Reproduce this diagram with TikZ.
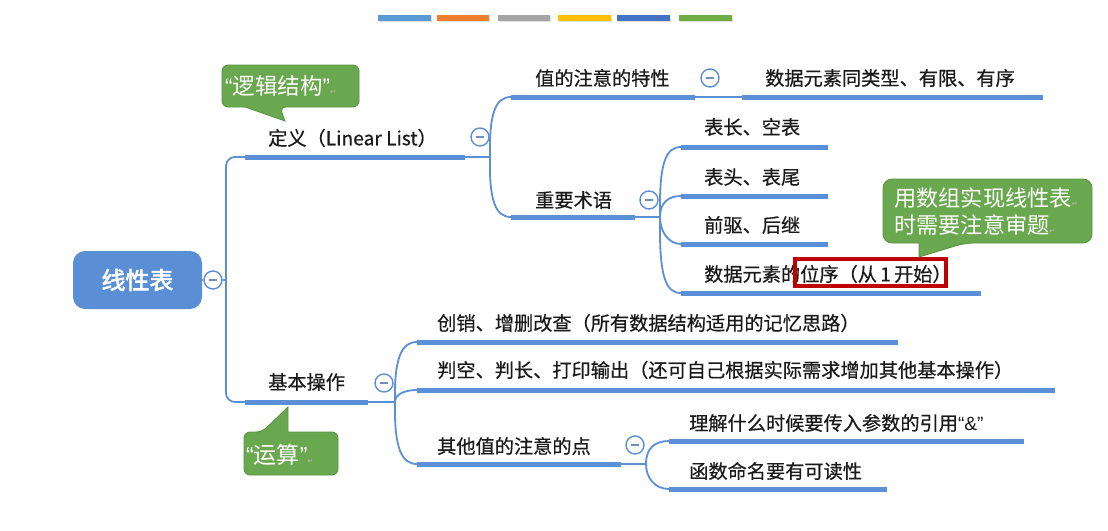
\documentclass[tikz,border=0pt]{standalone}
\usepackage{fontspec}
\setmainfont{Noto Sans CJK SC}[AutoFakeBold=2.5]
\newfontfamily\lblfont{Noto Sans CJK SC}[FakeBold=0.5]
\newfontfamily\sym{DejaVu Sans}
\newfontfamily\lat{Liberation Sans}
\definecolor{barA}{HTML}{5B9BD5}
\definecolor{barB}{HTML}{ED7D31}
\definecolor{barC}{HTML}{A5A5A5}
\definecolor{barD}{HTML}{FFC000}
\definecolor{barE}{HTML}{4472C4}
\definecolor{barF}{HTML}{70AD47}
\definecolor{mline}{HTML}{5B8FD7}
\definecolor{rootc}{HTML}{5A8FD6}
\definecolor{minusc}{HTML}{6F8FB8}
\definecolor{txtc}{HTML}{1A1A1A}
\definecolor{cg}{HTML}{6AA84F}
\definecolor{cgb}{HTML}{5A9140}
\definecolor{redc}{HTML}{C00000}
\begin{document}
\begin{tikzpicture}[x=1pt,y=-1pt,
  ul/.style={draw=mline,line width=5pt},
  conn/.style={draw=mline,line width=1.8pt},
  lbl/.style={anchor=west,inner sep=0pt,text=txtc,font=\lblfont\fontsize{19.2}{22}\selectfont},
  coll/.style={circle,draw=mline,line width=1.4pt,fill=white,minimum size=18pt,inner sep=0pt,
    path picture={\draw[line width=1.5pt,draw=minusc] ([xshift=-4pt]path picture bounding box.center) -- ([xshift=4pt]path picture bounding box.center);}},
  bubble/.style={fill=cg,draw=cgb,line width=0.8pt},
  ctext/.style={anchor=west,text=white,inner sep=0pt,align=left},
  pmark/.style={text=gray!60,font=\sym\fontsize{7}{7}\selectfont}]
\useasboundingbox[fill=white] (0,0) rectangle (1108,530);

% top colour bars
\foreach \xa/\xb/\c in {378/431/barA,437/489/barB,498/550/barC,558/611/barD,617/670/barE,679/732/barF}{
  \fill[black!12] (\xa+0.8,15.8) rectangle (\xb+0.8,21.8);
  \fill[\c] (\xa,15) rectangle (\xb,21);
}

% root
\node[fill=rootc,rounded corners=12pt,minimum width=129pt,minimum height=58pt,inner sep=0pt,
      text=white,font=\bfseries\fontsize{24}{28}\selectfont] (root) at (137.5,280) {线性表};
\node[coll] (rc) at (213,280) {};
\coordinate (trunk) at (226,280);

% underline end points and junctions
\coordinate (defA) at (245,157);   \coordinate (defB) at (465,157);   \coordinate (defJ) at (490,157);
\coordinate (attrA) at (511,97);   \coordinate (attrB) at (695,97);
\coordinate (attrcA) at (742,97);  \coordinate (attrcB) at (1043,97);
\coordinate (termA) at (511,217);  \coordinate (termB) at (635,217);  \coordinate (termJ) at (660,217);
\coordinate (t1A) at (681,147);    \coordinate (t1B) at (828,147);
\coordinate (t2A) at (681,196);    \coordinate (t2B) at (828,196);
\coordinate (t3A) at (681,244);    \coordinate (t3B) at (828,244);
\coordinate (t4A) at (681,293);    \coordinate (t4B) at (981,293);
\coordinate (opsA) at (245,402);   \coordinate (opsB) at (368,402);   \coordinate (opsJ) at (395,402);
\coordinate (o1A) at (417,342);    \coordinate (o1B) at (898,342);
\coordinate (o2A) at (417,390);    \coordinate (o2B) at (1055,390);
\coordinate (othA) at (417,464);   \coordinate (othB) at (621,464);   \coordinate (othJ) at (646,464);
\coordinate (p1A) at (669,441);    \coordinate (p1B) at (1024,441);
\coordinate (p2A) at (669,489);    \coordinate (p2B) at (887,489);

% connectors
\draw[conn] (root.east) -- (rc.west);
\draw[conn] (rc.east) -- (trunk);
\draw[conn,rounded corners=9pt] (defA) -- (226,157) -- (226,402) -- (opsA);
\draw[conn] (defB) -- (defJ);
\draw[conn] (defJ) .. controls (489,112) and (496,97) .. (attrA);
\draw[conn] (defJ) .. controls (489,202) and (496,217) .. (termA);
\draw[conn] (attrB) -- (attrcA);
\draw[conn] (termB) -- (termJ);
\draw[conn] (termJ) .. controls (659,162) and (666,147) .. (t1A);
\draw[conn] (termJ) .. controls (660,203) and (668,196) .. (t2A);
\draw[conn] (termJ) .. controls (660,231) and (668,244) .. (t3A);
\draw[conn] (termJ) .. controls (659,278) and (666,293) .. (t4A);
\draw[conn] (opsB) -- (opsJ);
\draw[conn] (opsJ) .. controls (394,357) and (402,342) .. (o1A);
\draw[conn] (opsJ) .. controls (395,394) and (405,390) .. (o2A);
\draw[conn] (opsJ) .. controls (394,449) and (402,464) .. (othA);
\draw[conn] (othB) -- (othJ);
\draw[conn] (othJ) .. controls (646,448) and (655,441) .. (p1A);
\draw[conn] (othJ) .. controls (646,478) and (655,489) .. (p2A);

% underlines
\foreach \n in {def,attr,attrc,term,t1,t2,t3,t4,ops,o1,o2,oth,p1,p2}{
  \draw[ul] (\n A) -- (\n B);
}

% labels
\node[lbl] (def) at (268,138) {定义（Linear List）};
\node[lbl] (attr) at (535,78) {值的注意的特性};
\node[lbl] (attrc) at (765,78) {数据元素同类型、有限、有序};
\node[lbl] (term) at (535,200) {重要术语};
\node[lbl] (t1) at (704,127) {表长、空表};
\node[lbl] (t2) at (704,177) {表头、表尾};
\node[lbl] (t3) at (704,225) {前驱、后继};
\node[lbl] (t4) at (704,274) {数据元素的位序（从\,1\,开始）};
\node[lbl] (ops) at (268,382) {基本操作};
\node[lbl] (o1) at (437,323) {创销、增删改查（所有数据结构适用的记忆思路）};
\node[lbl] (o2) at (437,370) {判空、判长、打印输出（还可自己根据实际需求增加其他基本操作）};
\node[lbl] (oth) at (437,446) {其他值的注意的点};
\node[lbl] (p1) at (689,423) {理解什么时候要传入参数的引用{\lat “\&”}};
\node[lbl] (p2) at (689,471) {函数命名要有可读性};

% collapse buttons
\node[coll] (cdef) at (480,137) {};
\node[coll] (cattr) at (710,78) {};
\node[coll] (cterm) at (649,200) {};
\node[coll] (cops) at (384,383) {};
\node[coll] (coth) at (635,445) {};

% highlight box
\node[draw=redc,line width=3.5pt,minimum width=151pt,minimum height=27pt,inner sep=0pt] (hl) at (870.5,272.5) {};

% callouts
\draw[bubble] (222,86) [rounded corners=6pt] -- (222,65) -- (359,65) -- (359,107) -- (280,107) [sharp corners] -- (285,121) -- (245,107) [rounded corners=6pt] -- (222,107) -- cycle;
\node[ctext,font=\fontsize{22.5}{26}\selectfont] (logic) at (225,86) {{\lat “}逻辑结构{\lat ”}{\sym\fontsize{7}{7}\selectfont\color{gray!55}↵}};

\draw[bubble] (244,454) [rounded corners=6pt] -- (244,432) -- (262,432) [sharp corners] -- (288,407) -- (288,432) [rounded corners=6pt] -- (338,432) -- (338,475) -- (244,475) -- cycle;
\node[ctext,font=\fontsize{23}{26}\selectfont] (calc) at (246,455) {{\lat “}运算{\lat ”}{\sym\fontsize{7}{7}\selectfont\color{gray!55}↵}};

\draw[bubble] (883,210) [rounded corners=9pt] -- (883,179) -- (1092,179) -- (1092,243) -- (965,243) [sharp corners] -- (919,257) -- (919,243) [rounded corners=9pt] -- (883,243) -- cycle;
\node[ctext,font=\fontsize{22.2}{27}\selectfont] (arr) at (894,211) {用数组实现线性表{\sym\fontsize{7}{7}\selectfont\color{gray!55}↵}\\时需要注意审题{\sym\fontsize{7}{7}\selectfont\color{gray!55}↵}};
\end{tikzpicture}
\end{document}
